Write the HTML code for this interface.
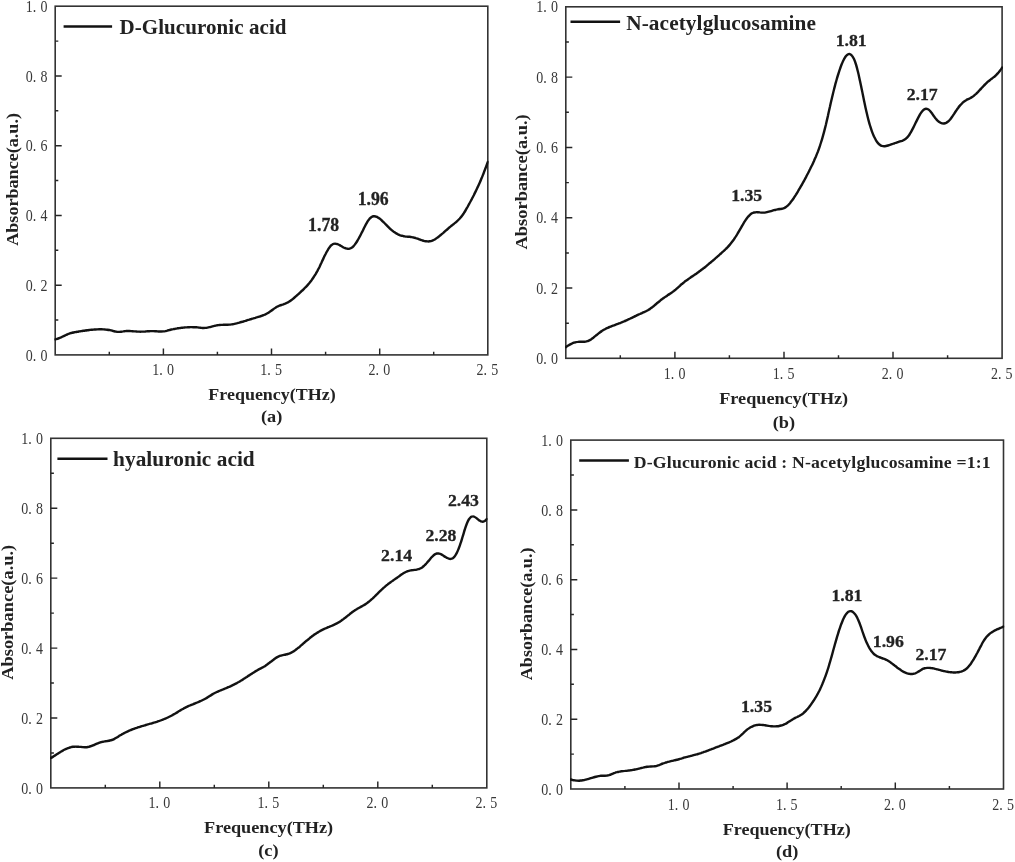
<!DOCTYPE html>
<html lang="en">
<head>
<meta charset="utf-8">
<title>THz absorbance spectra</title>
<style>
html,body{margin:0;padding:0;background:#fff;}
body{width:1015px;height:862px;overflow:hidden;}
svg{display:block;}
text{font-family:"Liberation Serif","Noto Serif CJK SC",serif;}
.fr{fill:none;stroke:#333;stroke-width:1.6;}
.tc{fill:none;stroke:#262626;stroke-width:1.45;}
.cv{fill:none;stroke:#121212;stroke-width:2.4;stroke-linecap:round;stroke-linejoin:round;}
.lg{stroke-linecap:butt;stroke-width:2.5;}
.tk{font-size:14px;fill:#383838;}
.b{font-weight:bold;fill:#222;}
.n{font-size:18.2px;stroke:#222;stroke-width:0.3;}
.t{stroke:none;}
</style>
</head>
<body>
<svg width="1015" height="862" viewBox="0 0 1015 862">
<rect width="1015" height="862" fill="#fff"/>
<g id="panel-a">
<rect class="fr" x="55.2" y="6.2" width="432.6" height="348.7"/>
<path class="tc" d="M109.3,354.9v-3.1M163.4,354.9v-6.5M217.4,354.9v-3.1M271.5,354.9v-6.5M325.6,354.9v-3.1M379.7,354.9v-6.5M433.7,354.9v-3.1M55.2,320.0h3.1M55.2,285.2h6.5M55.2,250.3h3.1M55.2,215.4h6.5M55.2,180.5h3.1M55.2,145.7h6.5M55.2,110.8h3.1M55.2,75.9h6.5M55.2,41.1h3.1"/>
<text class="tk" transform="translate(0,374.7) scale(1,1.17)" x="152.2 159.2 166.9" y="0">1.0</text>
<text class="tk" transform="translate(0,374.7) scale(1,1.17)" x="260.3 267.3 275.0" y="0">1.5</text>
<text class="tk" transform="translate(0,374.7) scale(1,1.17)" x="368.5 375.5 383.2" y="0">2.0</text>
<text class="tk" transform="translate(0,374.7) scale(1,1.17)" x="476.6 483.6 491.3" y="0">2.5</text>
<text class="tk" transform="translate(0,360.5) scale(1,1.17)" x="25.7 32.7 40.4" y="0">0.0</text>
<text class="tk" transform="translate(0,290.8) scale(1,1.17)" x="25.7 32.7 40.4" y="0">0.2</text>
<text class="tk" transform="translate(0,221.0) scale(1,1.17)" x="25.7 32.7 40.4" y="0">0.4</text>
<text class="tk" transform="translate(0,151.3) scale(1,1.17)" x="25.7 32.7 40.4" y="0">0.6</text>
<text class="tk" transform="translate(0,81.5) scale(1,1.17)" x="25.7 32.7 40.4" y="0">0.8</text>
<text class="tk" transform="translate(0,11.8) scale(1,1.17)" x="25.7 32.7 40.4" y="0">1.0</text>
<clipPath id="clip-a"><rect x="54.4" y="5.4" width="434.2" height="350.3"/></clipPath>
<path class="cv" clip-path="url(#clip-a)" d="M55.2,339.3C55.5,339.2 56.5,339.0 57.2,338.8C57.9,338.6 58.5,338.4 59.2,338.1C59.9,337.9 60.5,337.6 61.2,337.3C61.9,337.0 62.5,336.7 63.2,336.3C63.9,336.0 64.5,335.7 65.2,335.4C65.9,335.1 66.5,334.7 67.2,334.5C67.9,334.2 68.6,333.9 69.2,333.7C69.9,333.4 70.6,333.2 71.2,333.0C71.9,332.8 72.6,332.7 73.2,332.5C73.9,332.4 74.6,332.2 75.2,332.1C75.9,332.0 76.6,331.9 77.2,331.8C77.9,331.6 78.6,331.5 79.2,331.4C79.9,331.3 80.6,331.2 81.2,331.1C81.9,331.0 82.6,330.9 83.2,330.8C83.9,330.7 84.6,330.6 85.2,330.5C85.9,330.4 86.6,330.3 87.2,330.2C87.9,330.2 88.6,330.1 89.2,330.0C89.9,329.9 90.6,329.9 91.2,329.8C91.9,329.7 92.6,329.7 93.3,329.6C93.9,329.6 94.6,329.5 95.3,329.5C95.9,329.4 96.6,329.4 97.3,329.4C97.9,329.3 98.6,329.3 99.3,329.3C99.9,329.3 100.6,329.3 101.3,329.3C101.9,329.3 102.6,329.3 103.3,329.4C103.9,329.4 104.6,329.4 105.3,329.5C105.9,329.5 106.6,329.6 107.3,329.7C107.9,329.8 108.6,329.9 109.3,330.0C109.9,330.1 110.6,330.3 111.3,330.4C111.9,330.6 112.6,330.8 113.3,331.0C113.9,331.1 114.6,331.3 115.3,331.5C116.0,331.6 116.6,331.8 117.3,331.9C118.0,331.9 118.6,331.9 119.3,331.9C120.0,331.9 120.6,331.8 121.3,331.7C122.0,331.6 122.6,331.4 123.3,331.4C124.0,331.3 124.6,331.2 125.3,331.1C126.0,331.1 126.6,331.0 127.3,331.0C128.0,331.0 128.6,331.0 129.3,331.0C130.0,331.1 130.6,331.1 131.3,331.1C132.0,331.2 132.6,331.2 133.3,331.3C134.0,331.3 134.6,331.4 135.3,331.4C136.0,331.5 136.6,331.5 137.3,331.6C138.0,331.6 138.6,331.6 139.3,331.6C140.0,331.7 140.7,331.7 141.3,331.6C142.0,331.6 142.7,331.6 143.3,331.6C144.0,331.5 144.7,331.5 145.3,331.5C146.0,331.4 146.7,331.4 147.3,331.3C148.0,331.3 148.7,331.2 149.3,331.2C150.0,331.2 150.7,331.1 151.3,331.1C152.0,331.1 152.7,331.1 153.3,331.1C154.0,331.2 154.7,331.2 155.3,331.2C156.0,331.3 156.7,331.3 157.3,331.4C158.0,331.4 158.7,331.5 159.3,331.5C160.0,331.5 160.7,331.6 161.3,331.5C162.0,331.5 162.7,331.5 163.4,331.4C164.0,331.3 164.7,331.2 165.4,331.1C166.0,330.9 166.7,330.8 167.4,330.6C168.0,330.4 168.7,330.2 169.4,330.0C170.0,329.8 170.7,329.7 171.4,329.5C172.0,329.4 172.7,329.2 173.4,329.1C174.0,328.9 174.7,328.8 175.4,328.7C176.0,328.6 176.7,328.5 177.4,328.3C178.0,328.2 178.7,328.2 179.4,328.1C180.0,328.0 180.7,327.9 181.4,327.8C182.0,327.7 182.7,327.7 183.4,327.6C184.0,327.5 184.7,327.5 185.4,327.4C186.0,327.4 186.7,327.3 187.4,327.3C188.1,327.2 188.7,327.2 189.4,327.2C190.1,327.2 190.7,327.1 191.4,327.1C192.1,327.1 192.7,327.1 193.4,327.2C194.1,327.2 194.7,327.2 195.4,327.2C196.1,327.3 196.7,327.3 197.4,327.4C198.1,327.5 198.7,327.6 199.4,327.6C200.1,327.7 200.7,327.8 201.4,327.9C202.1,327.9 202.7,328.0 203.4,328.0C204.1,328.0 204.7,328.0 205.4,327.9C206.1,327.9 206.7,327.8 207.4,327.6C208.1,327.5 208.7,327.4 209.4,327.2C210.1,327.0 210.7,326.8 211.4,326.7C212.1,326.5 212.8,326.3 213.4,326.1C214.1,325.9 214.8,325.8 215.4,325.6C216.1,325.5 216.8,325.3 217.4,325.2C218.1,325.1 218.8,325.1 219.4,325.0C220.1,324.9 220.8,324.9 221.4,324.9C222.1,324.9 222.8,324.8 223.4,324.8C224.1,324.8 224.8,324.8 225.4,324.8C226.1,324.8 226.8,324.8 227.4,324.7C228.1,324.7 228.8,324.7 229.4,324.6C230.1,324.6 230.8,324.5 231.4,324.4C232.1,324.4 232.8,324.2 233.4,324.1C234.1,324.0 234.8,323.9 235.4,323.7C236.1,323.5 236.8,323.4 237.5,323.2C238.1,323.0 238.8,322.8 239.5,322.6C240.1,322.4 240.8,322.2 241.5,322.0C242.1,321.9 242.8,321.7 243.5,321.5C244.1,321.3 244.8,321.1 245.5,320.9C246.1,320.7 246.8,320.5 247.5,320.2C248.1,320.0 248.8,319.8 249.5,319.6C250.1,319.4 250.8,319.2 251.5,319.0C252.1,318.8 252.8,318.6 253.5,318.4C254.1,318.2 254.8,318.0 255.5,317.8C256.1,317.6 256.8,317.4 257.5,317.2C258.1,317.0 258.8,316.8 259.5,316.6C260.2,316.4 260.8,316.2 261.5,315.9C262.2,315.7 262.8,315.5 263.5,315.2C264.2,314.9 264.8,314.6 265.5,314.3C266.2,314.0 266.8,313.7 267.5,313.3C268.2,312.9 268.8,312.5 269.5,312.0C270.2,311.6 270.8,311.1 271.5,310.6C272.2,310.1 272.8,309.5 273.5,309.1C274.2,308.6 274.8,308.1 275.5,307.7C276.2,307.2 276.8,306.9 277.5,306.5C278.2,306.2 278.8,305.9 279.5,305.7C280.2,305.4 280.8,305.2 281.5,305.0C282.2,304.7 282.8,304.5 283.5,304.3C284.2,304.0 284.9,303.8 285.5,303.5C286.2,303.3 286.9,303.0 287.5,302.6C288.2,302.3 288.9,301.9 289.5,301.4C290.2,301.0 290.9,300.5 291.5,300.0C292.2,299.5 292.9,299.0 293.5,298.4C294.2,297.9 294.9,297.3 295.5,296.7C296.2,296.1 296.9,295.5 297.5,294.9C298.2,294.3 298.9,293.7 299.5,293.1C300.2,292.4 300.9,291.8 301.5,291.2C302.2,290.6 302.9,289.9 303.5,289.3C304.2,288.6 304.9,288.0 305.5,287.3C306.2,286.6 306.9,285.9 307.6,285.1C308.2,284.4 308.9,283.6 309.6,282.8C310.2,282.0 310.9,281.1 311.6,280.2C312.2,279.3 312.9,278.3 313.6,277.3C314.2,276.3 314.9,275.3 315.6,274.1C316.2,273.0 316.9,271.8 317.6,270.6C318.2,269.4 318.9,268.1 319.6,266.7C320.2,265.3 320.9,263.9 321.6,262.4C322.2,261.0 322.9,259.5 323.6,258.1C324.2,256.7 324.9,255.3 325.6,254.0C326.2,252.7 326.9,251.5 327.6,250.4C328.2,249.3 328.9,248.2 329.6,247.3C330.2,246.4 330.9,245.6 331.6,245.1C332.3,244.5 332.9,244.1 333.6,243.9C334.3,243.7 334.9,243.6 335.6,243.7C336.3,243.7 336.9,243.9 337.6,244.2C338.3,244.4 338.9,244.8 339.6,245.1C340.3,245.5 340.9,245.9 341.6,246.3C342.3,246.7 342.9,247.1 343.6,247.5C344.3,247.8 344.9,248.1 345.6,248.4C346.3,248.6 346.9,248.8 347.6,248.8C348.3,248.9 348.9,248.9 349.6,248.7C350.3,248.5 350.9,248.3 351.6,247.8C352.3,247.4 352.9,246.8 353.6,246.1C354.3,245.4 354.9,244.5 355.6,243.6C356.3,242.6 357.0,241.6 357.6,240.4C358.3,239.3 359.0,238.1 359.6,236.8C360.3,235.6 361.0,234.3 361.6,232.9C362.3,231.6 363.0,230.2 363.6,228.9C364.3,227.5 365.0,226.2 365.6,224.9C366.3,223.7 367.0,222.5 367.6,221.4C368.3,220.4 369.0,219.4 369.6,218.7C370.3,218.0 371.0,217.4 371.6,217.0C372.3,216.6 373.0,216.4 373.6,216.3C374.3,216.2 375.0,216.3 375.6,216.5C376.3,216.6 377.0,216.9 377.6,217.3C378.3,217.6 379.0,218.1 379.6,218.6C380.3,219.1 381.0,219.7 381.7,220.4C382.3,221.0 383.0,221.6 383.7,222.3C384.3,223.0 385.0,223.7 385.7,224.3C386.3,225.0 387.0,225.7 387.7,226.4C388.3,227.1 389.0,227.7 389.7,228.4C390.3,229.0 391.0,229.6 391.7,230.2C392.3,230.7 393.0,231.3 393.7,231.8C394.3,232.2 395.0,232.7 395.7,233.1C396.3,233.5 397.0,233.9 397.7,234.2C398.3,234.5 399.0,234.8 399.7,235.1C400.3,235.3 401.0,235.6 401.7,235.7C402.3,235.9 403.0,236.1 403.7,236.2C404.4,236.4 405.0,236.5 405.7,236.6C406.4,236.6 407.0,236.7 407.7,236.7C408.4,236.8 409.0,236.8 409.7,236.8C410.4,236.9 411.0,237.0 411.7,237.1C412.4,237.2 413.0,237.3 413.7,237.5C414.4,237.6 415.0,237.8 415.7,238.1C416.4,238.3 417.0,238.5 417.7,238.7C418.4,239.0 419.0,239.2 419.7,239.5C420.4,239.7 421.0,240.0 421.7,240.2C422.4,240.4 423.0,240.6 423.7,240.8C424.4,241.0 425.0,241.1 425.7,241.2C426.4,241.4 427.0,241.4 427.7,241.4C428.4,241.5 429.1,241.4 429.7,241.3C430.4,241.2 431.1,241.1 431.7,240.9C432.4,240.6 433.1,240.3 433.7,240.0C434.4,239.7 435.1,239.3 435.7,238.8C436.4,238.4 437.1,237.9 437.7,237.4C438.4,236.9 439.1,236.4 439.7,235.9C440.4,235.3 441.1,234.8 441.7,234.2C442.4,233.6 443.1,233.1 443.7,232.5C444.4,231.9 445.1,231.3 445.7,230.7C446.4,230.1 447.1,229.5 447.7,229.0C448.4,228.4 449.1,227.8 449.7,227.2C450.4,226.7 451.1,226.1 451.8,225.6C452.4,225.0 453.1,224.5 453.8,224.0C454.4,223.4 455.1,222.9 455.8,222.3C456.4,221.8 457.1,221.2 457.8,220.5C458.4,219.9 459.1,219.2 459.8,218.5C460.4,217.7 461.1,216.9 461.8,216.1C462.4,215.2 463.1,214.2 463.8,213.2C464.4,212.2 465.1,211.1 465.8,210.0C466.4,208.8 467.1,207.7 467.8,206.5C468.4,205.3 469.1,204.1 469.8,202.8C470.4,201.6 471.1,200.4 471.8,199.1C472.4,197.8 473.1,196.5 473.8,195.2C474.4,193.9 475.1,192.5 475.8,191.1C476.5,189.7 477.1,188.3 477.8,186.9C478.5,185.4 479.1,183.9 479.8,182.4C480.5,180.9 481.1,179.3 481.8,177.7C482.5,176.1 483.1,174.4 483.8,172.7C484.5,171.0 485.1,169.3 485.8,167.5C486.5,165.7 487.5,162.9 487.8,162.0"/>
<path class="cv lg" d="M63.6,26.5H112.1"/>
<text class="b" x="119.5" y="33.9" font-size="21" textLength="167" lengthAdjust="spacing">D-Glucuronic acid</text>
<text class="b n" transform="translate(308.1,231.3) scale(0.975,0.98)">1.78</text>
<text class="b n" transform="translate(357.7,204.5) scale(0.975,0.98)">1.96</text>
<text class="b t" font-size="16.4" transform="translate(272.0,399.7) scale(1.0963,1)" text-anchor="middle">Frequency(THz)</text>
<text class="b t" font-size="17" transform="translate(271.7,421.9) scale(1.08,1)" text-anchor="middle">(a)</text>
<text class="b t" font-size="16.4" transform="translate(18.4,179.4) rotate(-90) scale(1.1042,1)" text-anchor="middle">Absorbance(a.u.)</text>
</g>
<g id="panel-b">
<rect class="fr" x="565.8" y="6.8" width="436.3" height="351.5"/>
<path class="tc" d="M620.3,358.3v-3.1M674.9,358.3v-6.5M729.4,358.3v-3.1M784.0,358.3v-6.5M838.5,358.3v-3.1M893.0,358.3v-6.5M947.6,358.3v-3.1M565.8,323.2h3.1M565.8,288.0h6.5M565.8,252.9h3.1M565.8,217.7h6.5M565.8,182.6h3.1M565.8,147.4h6.5M565.8,112.3h3.1M565.8,77.1h6.5M565.8,41.9h3.1"/>
<text class="tk" transform="translate(0,378.8) scale(1,1.17)" x="663.7 670.7 678.4" y="0">1.0</text>
<text class="tk" transform="translate(0,378.8) scale(1,1.17)" x="772.8 779.8 787.5" y="0">1.5</text>
<text class="tk" transform="translate(0,378.8) scale(1,1.17)" x="881.8 888.8 896.5" y="0">2.0</text>
<text class="tk" transform="translate(0,378.8) scale(1,1.17)" x="990.9 997.9 1005.6" y="0">2.5</text>
<text class="tk" transform="translate(0,363.9) scale(1,1.17)" x="536.3 543.3 551.0" y="0">0.0</text>
<text class="tk" transform="translate(0,293.6) scale(1,1.17)" x="536.3 543.3 551.0" y="0">0.2</text>
<text class="tk" transform="translate(0,223.3) scale(1,1.17)" x="536.3 543.3 551.0" y="0">0.4</text>
<text class="tk" transform="translate(0,153.0) scale(1,1.17)" x="536.3 543.3 551.0" y="0">0.6</text>
<text class="tk" transform="translate(0,82.7) scale(1,1.17)" x="536.3 543.3 551.0" y="0">0.8</text>
<text class="tk" transform="translate(0,12.4) scale(1,1.17)" x="536.3 543.3 551.0" y="0">1.0</text>
<clipPath id="clip-b"><rect x="565.0" y="6.0" width="437.9" height="353.1"/></clipPath>
<path class="cv" clip-path="url(#clip-b)" d="M565.8,347.2C566.1,347.0 567.1,346.3 567.8,345.8C568.5,345.4 569.1,345.0 569.8,344.6C570.5,344.2 571.1,343.9 571.8,343.6C572.5,343.2 573.1,343.0 573.8,342.7C574.5,342.5 575.1,342.3 575.8,342.2C576.5,342.0 577.1,341.9 577.8,341.9C578.5,341.8 579.1,341.8 579.8,341.8C580.5,341.8 581.1,341.8 581.8,341.8C582.5,341.8 583.1,341.8 583.8,341.8C584.5,341.8 585.1,341.7 585.8,341.6C586.5,341.5 587.1,341.3 587.8,341.1C588.5,340.8 589.1,340.5 589.8,340.1C590.5,339.7 591.2,339.3 591.8,338.8C592.5,338.3 593.2,337.8 593.8,337.3C594.5,336.8 595.2,336.2 595.8,335.7C596.5,335.1 597.2,334.6 597.8,334.1C598.5,333.5 599.2,333.0 599.8,332.5C600.5,332.0 601.2,331.5 601.8,331.0C602.5,330.6 603.2,330.2 603.8,329.8C604.5,329.4 605.2,329.0 605.8,328.7C606.5,328.4 607.2,328.1 607.8,327.8C608.5,327.5 609.2,327.2 609.8,326.9C610.5,326.7 611.2,326.4 611.8,326.1C612.5,325.9 613.2,325.6 613.8,325.4C614.5,325.1 615.2,324.9 615.8,324.6C616.5,324.4 617.2,324.1 617.8,323.9C618.5,323.6 619.2,323.3 619.8,323.1C620.5,322.8 621.2,322.6 621.8,322.3C622.5,322.0 623.2,321.8 623.8,321.5C624.5,321.2 625.2,320.9 625.8,320.6C626.5,320.3 627.2,320.0 627.8,319.7C628.5,319.4 629.2,319.1 629.8,318.8C630.5,318.4 631.2,318.1 631.8,317.8C632.5,317.5 633.2,317.1 633.8,316.8C634.5,316.5 635.2,316.2 635.8,315.9C636.5,315.5 637.2,315.2 637.8,314.9C638.5,314.6 639.2,314.3 639.9,314.0C640.5,313.7 641.2,313.4 641.9,313.1C642.5,312.8 643.2,312.5 643.9,312.2C644.5,311.9 645.2,311.7 645.9,311.3C646.5,311.0 647.2,310.7 647.9,310.3C648.5,309.9 649.2,309.5 649.9,309.0C650.5,308.6 651.2,308.1 651.9,307.6C652.5,307.0 653.2,306.5 653.9,306.0C654.5,305.4 655.2,304.8 655.9,304.3C656.5,303.7 657.2,303.1 657.9,302.6C658.5,302.0 659.2,301.4 659.9,300.9C660.5,300.4 661.2,299.8 661.9,299.3C662.5,298.8 663.2,298.3 663.9,297.9C664.5,297.4 665.2,296.9 665.9,296.5C666.5,296.0 667.2,295.6 667.9,295.1C668.5,294.7 669.2,294.3 669.9,293.8C670.5,293.3 671.2,292.9 671.9,292.4C672.5,291.9 673.2,291.4 673.9,290.9C674.5,290.4 675.2,289.9 675.9,289.3C676.5,288.8 677.2,288.2 677.9,287.6C678.5,287.0 679.2,286.4 679.9,285.8C680.5,285.2 681.2,284.6 681.9,284.1C682.5,283.5 683.2,282.9 683.9,282.4C684.5,281.9 685.2,281.3 685.9,280.8C686.5,280.3 687.2,279.9 687.9,279.4C688.6,278.9 689.2,278.4 689.9,278.0C690.6,277.5 691.2,277.1 691.9,276.6C692.6,276.2 693.2,275.7 693.9,275.3C694.6,274.8 695.2,274.4 695.9,273.9C696.6,273.4 697.2,273.0 697.9,272.5C698.6,272.0 699.2,271.5 699.9,271.0C700.6,270.5 701.2,270.0 701.9,269.5C702.6,269.0 703.2,268.5 703.9,268.0C704.6,267.4 705.2,266.9 705.9,266.4C706.6,265.8 707.2,265.3 707.9,264.7C708.6,264.2 709.2,263.6 709.9,263.1C710.6,262.5 711.2,262.0 711.9,261.4C712.6,260.8 713.2,260.2 713.9,259.7C714.6,259.1 715.2,258.5 715.9,257.9C716.6,257.3 717.2,256.8 717.9,256.2C718.6,255.6 719.2,255.0 719.9,254.4C720.6,253.8 721.2,253.2 721.9,252.6C722.6,252.0 723.2,251.4 723.9,250.8C724.6,250.2 725.2,249.5 725.9,248.9C726.6,248.2 727.2,247.5 727.9,246.8C728.6,246.1 729.2,245.4 729.9,244.6C730.6,243.8 731.2,243.0 731.9,242.1C732.6,241.2 733.2,240.3 733.9,239.4C734.6,238.4 735.2,237.4 735.9,236.4C736.6,235.3 737.3,234.2 737.9,233.0C738.6,231.9 739.3,230.7 739.9,229.6C740.6,228.4 741.3,227.2 741.9,226.1C742.6,224.9 743.3,223.8 743.9,222.7C744.6,221.6 745.3,220.6 745.9,219.6C746.6,218.6 747.3,217.7 747.9,216.9C748.6,216.1 749.3,215.4 749.9,214.8C750.6,214.2 751.3,213.7 751.9,213.3C752.6,212.9 753.3,212.7 753.9,212.5C754.6,212.3 755.3,212.2 755.9,212.2C756.6,212.1 757.3,212.2 757.9,212.2C758.6,212.2 759.3,212.3 759.9,212.4C760.6,212.5 761.3,212.6 761.9,212.6C762.6,212.6 763.3,212.6 763.9,212.6C764.6,212.6 765.3,212.5 765.9,212.4C766.6,212.3 767.3,212.1 767.9,211.9C768.6,211.8 769.3,211.6 769.9,211.4C770.6,211.2 771.3,211.0 771.9,210.8C772.6,210.6 773.3,210.4 773.9,210.2C774.6,210.0 775.3,209.8 775.9,209.7C776.6,209.5 777.3,209.4 777.9,209.3C778.6,209.2 779.3,209.1 779.9,209.0C780.6,209.0 781.3,208.9 781.9,208.8C782.6,208.6 783.3,208.5 784.0,208.2C784.6,207.9 785.3,207.5 786.0,207.0C786.6,206.6 787.3,206.0 788.0,205.4C788.6,204.7 789.3,204.0 790.0,203.2C790.6,202.4 791.3,201.5 792.0,200.6C792.6,199.7 793.3,198.7 794.0,197.7C794.6,196.7 795.3,195.6 796.0,194.6C796.6,193.5 797.3,192.4 798.0,191.3C798.6,190.2 799.3,189.1 800.0,187.9C800.6,186.8 801.3,185.6 802.0,184.5C802.6,183.3 803.3,182.1 804.0,180.9C804.6,179.6 805.3,178.4 806.0,177.1C806.6,175.9 807.3,174.6 808.0,173.3C808.6,172.0 809.3,170.7 810.0,169.3C810.6,168.0 811.3,166.6 812.0,165.3C812.6,163.9 813.3,162.5 814.0,161.0C814.6,159.5 815.3,158.0 816.0,156.4C816.6,154.8 817.3,153.1 818.0,151.4C818.6,149.6 819.3,147.7 820.0,145.7C820.6,143.7 821.3,141.6 822.0,139.3C822.6,137.1 823.3,134.7 824.0,132.2C824.6,129.7 825.3,127.1 826.0,124.3C826.6,121.5 827.3,118.5 828.0,115.6C828.6,112.6 829.3,109.6 830.0,106.6C830.6,103.6 831.3,100.7 832.0,97.8C832.7,95.0 833.3,92.2 834.0,89.5C834.7,86.9 835.3,84.3 836.0,81.9C836.7,79.4 837.3,77.1 838.0,75.0C838.7,72.8 839.3,70.7 840.0,68.8C840.7,66.9 841.3,65.1 842.0,63.5C842.7,61.9 843.3,60.5 844.0,59.2C844.7,58.0 845.3,56.9 846.0,56.0C846.7,55.2 847.3,54.6 848.0,54.3C848.7,53.9 849.3,53.8 850.0,54.1C850.7,54.3 851.3,54.8 852.0,55.7C852.7,56.5 853.3,57.6 854.0,59.1C854.7,60.6 855.3,62.4 856.0,64.5C856.7,66.7 857.3,69.2 858.0,72.0C858.7,74.7 859.3,77.8 860.0,80.9C860.7,84.0 861.3,87.4 862.0,90.6C862.7,93.9 863.3,97.2 864.0,100.4C864.7,103.6 865.3,106.9 866.0,109.8C866.7,112.8 867.3,115.7 868.0,118.3C868.7,120.9 869.3,123.3 870.0,125.5C870.7,127.7 871.3,129.7 872.0,131.6C872.7,133.4 873.3,135.0 874.0,136.5C874.7,137.9 875.3,139.2 876.0,140.3C876.7,141.4 877.3,142.3 878.0,143.1C878.7,143.9 879.3,144.5 880.0,144.9C880.7,145.4 881.4,145.7 882.0,145.9C882.7,146.1 883.4,146.2 884.0,146.2C884.7,146.2 885.4,146.1 886.0,146.0C886.7,145.9 887.4,145.7 888.0,145.5C888.7,145.3 889.4,145.1 890.0,144.9C890.7,144.7 891.4,144.4 892.0,144.2C892.7,144.0 893.4,143.8 894.0,143.5C894.7,143.3 895.4,143.1 896.0,142.8C896.7,142.6 897.4,142.4 898.0,142.1C898.7,141.9 899.4,141.7 900.0,141.4C900.7,141.2 901.4,141.0 902.0,140.8C902.7,140.5 903.4,140.3 904.0,139.9C904.7,139.6 905.4,139.2 906.0,138.6C906.7,138.1 907.4,137.4 908.0,136.5C908.7,135.7 909.4,134.7 910.0,133.6C910.7,132.5 911.4,131.3 912.0,130.1C912.7,128.8 913.4,127.5 914.0,126.2C914.7,124.8 915.4,123.4 916.0,122.1C916.7,120.7 917.4,119.3 918.0,118.1C918.7,116.8 919.4,115.5 920.0,114.4C920.7,113.3 921.4,112.3 922.0,111.5C922.7,110.7 923.4,110.0 924.0,109.5C924.7,109.1 925.4,108.8 926.0,108.8C926.7,108.8 927.4,109.0 928.0,109.3C928.7,109.7 929.4,110.3 930.1,111.0C930.7,111.7 931.4,112.6 932.1,113.5C932.7,114.4 933.4,115.5 934.1,116.4C934.7,117.3 935.4,118.3 936.1,119.0C936.7,119.8 937.4,120.5 938.1,121.1C938.7,121.7 939.4,122.1 940.1,122.5C940.7,122.9 941.4,123.2 942.1,123.4C942.7,123.5 943.4,123.6 944.1,123.5C944.7,123.4 945.4,123.2 946.1,122.9C946.7,122.6 947.4,122.1 948.1,121.6C948.7,121.0 949.4,120.3 950.1,119.5C950.7,118.7 951.4,117.8 952.1,116.8C952.7,115.9 953.4,114.9 954.1,113.9C954.7,112.9 955.4,111.8 956.1,110.8C956.7,109.9 957.4,108.9 958.1,108.0C958.7,107.1 959.4,106.2 960.1,105.4C960.7,104.7 961.4,103.9 962.1,103.3C962.7,102.6 963.4,102.0 964.1,101.5C964.7,101.0 965.4,100.6 966.1,100.2C966.7,99.8 967.4,99.5 968.1,99.2C968.7,98.9 969.4,98.7 970.1,98.3C970.7,98.0 971.4,97.6 972.1,97.1C972.7,96.7 973.4,96.2 974.1,95.6C974.7,95.1 975.4,94.4 976.1,93.8C976.7,93.2 977.4,92.5 978.1,91.8C978.8,91.1 979.4,90.4 980.1,89.7C980.8,89.0 981.4,88.2 982.1,87.5C982.8,86.8 983.4,86.1 984.1,85.4C984.8,84.7 985.4,84.0 986.1,83.3C986.8,82.7 987.4,82.0 988.1,81.5C988.8,80.9 989.4,80.4 990.1,79.9C990.8,79.4 991.4,78.9 992.1,78.4C992.8,77.9 993.4,77.5 994.1,76.9C994.8,76.4 995.4,75.8 996.1,75.1C996.8,74.5 997.4,73.8 998.1,73.0C998.8,72.2 999.4,71.4 1000.1,70.5C1000.8,69.6 1001.8,68.0 1002.1,67.5"/>
<path class="cv lg" d="M570.5,21.8H620.1"/>
<text class="b" x="626.2" y="29.5" font-size="21.3" textLength="189.8" lengthAdjust="spacing">N-acetylglucosamine</text>
<text class="b n" transform="translate(731.2,200.9) scale(0.975,0.955)">1.35</text>
<text class="b n" transform="translate(835.7,46.2) scale(0.975,0.955)">1.81</text>
<text class="b n" transform="translate(906.7,99.8) scale(0.975,0.955)">2.17</text>
<text class="b t" font-size="17.2" transform="translate(783.7,404.3) scale(1.0576,1)" text-anchor="middle">Frequency(THz)</text>
<text class="b t" font-size="17" transform="translate(783.9,427.6) scale(1.08,1)" text-anchor="middle">(b)</text>
<text class="b t" font-size="17.2" transform="translate(527.2,181.9) rotate(-90) scale(1.0734,1)" text-anchor="middle">Absorbance(a.u.)</text>
</g>
<g id="panel-c">
<rect class="fr" x="50.8" y="438.3" width="436.0" height="349.6"/>
<path class="tc" d="M105.3,787.9v-3.1M159.8,787.9v-6.5M214.3,787.9v-3.1M268.8,787.9v-6.5M323.3,787.9v-3.1M377.8,787.9v-6.5M432.3,787.9v-3.1M50.8,752.9h3.1M50.8,718.0h6.5M50.8,683.0h3.1M50.8,648.1h6.5M50.8,613.1h3.1M50.8,578.1h6.5M50.8,543.2h3.1M50.8,508.2h6.5M50.8,473.3h3.1"/>
<text class="tk" transform="translate(0,808.4) scale(1,1.17)" x="148.6 155.6 163.3" y="0">1.0</text>
<text class="tk" transform="translate(0,808.4) scale(1,1.17)" x="257.6 264.6 272.3" y="0">1.5</text>
<text class="tk" transform="translate(0,808.4) scale(1,1.17)" x="366.6 373.6 381.3" y="0">2.0</text>
<text class="tk" transform="translate(0,808.4) scale(1,1.17)" x="475.6 482.6 490.3" y="0">2.5</text>
<text class="tk" transform="translate(0,793.5) scale(1,1.17)" x="21.3 28.3 36.0" y="0">0.0</text>
<text class="tk" transform="translate(0,723.6) scale(1,1.17)" x="21.3 28.3 36.0" y="0">0.2</text>
<text class="tk" transform="translate(0,653.7) scale(1,1.17)" x="21.3 28.3 36.0" y="0">0.4</text>
<text class="tk" transform="translate(0,583.7) scale(1,1.17)" x="21.3 28.3 36.0" y="0">0.6</text>
<text class="tk" transform="translate(0,513.8) scale(1,1.17)" x="21.3 28.3 36.0" y="0">0.8</text>
<text class="tk" transform="translate(0,443.9) scale(1,1.17)" x="21.3 28.3 36.0" y="0">1.0</text>
<clipPath id="clip-c"><rect x="50.0" y="437.5" width="437.6" height="351.2"/></clipPath>
<path class="cv" clip-path="url(#clip-c)" d="M50.8,758.1C51.1,757.9 52.1,757.3 52.8,756.9C53.5,756.5 54.1,756.1 54.8,755.6C55.5,755.2 56.1,754.8 56.8,754.3C57.5,753.9 58.1,753.5 58.8,753.0C59.5,752.6 60.1,752.2 60.8,751.8C61.5,751.4 62.1,751.0 62.8,750.6C63.5,750.2 64.1,749.8 64.8,749.5C65.5,749.2 66.1,748.8 66.8,748.6C67.5,748.3 68.1,748.0 68.8,747.8C69.5,747.5 70.1,747.3 70.8,747.2C71.5,747.0 72.1,746.9 72.8,746.8C73.5,746.7 74.1,746.7 74.8,746.7C75.5,746.6 76.1,746.6 76.8,746.7C77.5,746.7 78.1,746.7 78.8,746.8C79.5,746.8 80.1,746.9 80.8,746.9C81.5,747.0 82.1,747.1 82.8,747.1C83.5,747.2 84.1,747.2 84.8,747.2C85.5,747.2 86.1,747.2 86.8,747.2C87.5,747.1 88.1,747.0 88.8,746.9C89.5,746.7 90.1,746.5 90.8,746.2C91.5,746.0 92.1,745.7 92.8,745.4C93.5,745.2 94.1,744.9 94.8,744.6C95.5,744.3 96.1,744.0 96.8,743.7C97.5,743.4 98.1,743.2 98.8,742.9C99.5,742.7 100.1,742.4 100.8,742.3C101.5,742.1 102.1,741.9 102.8,741.8C103.5,741.6 104.1,741.5 104.8,741.4C105.5,741.3 106.1,741.2 106.8,741.1C107.5,740.9 108.1,740.8 108.8,740.7C109.5,740.6 110.1,740.4 110.8,740.3C111.5,740.1 112.1,739.9 112.8,739.6C113.5,739.4 114.1,739.0 114.8,738.7C115.5,738.3 116.1,737.9 116.8,737.5C117.5,737.1 118.1,736.7 118.8,736.2C119.5,735.8 120.1,735.4 120.8,735.0C121.5,734.6 122.1,734.2 122.8,733.9C123.5,733.5 124.1,733.1 124.8,732.8C125.5,732.5 126.1,732.1 126.8,731.8C127.5,731.5 128.1,731.2 128.8,730.9C129.5,730.6 130.1,730.3 130.8,730.0C131.5,729.8 132.1,729.5 132.8,729.2C133.5,729.0 134.1,728.7 134.8,728.5C135.5,728.2 136.1,728.0 136.8,727.8C137.5,727.5 138.1,727.3 138.8,727.1C139.5,726.9 140.1,726.7 140.8,726.5C141.5,726.3 142.1,726.1 142.8,725.9C143.5,725.7 144.1,725.5 144.8,725.3C145.5,725.1 146.1,724.9 146.8,724.7C147.5,724.5 148.1,724.3 148.8,724.1C149.5,724.0 150.1,723.8 150.8,723.6C151.5,723.4 152.1,723.2 152.8,723.0C153.5,722.8 154.1,722.6 154.8,722.4C155.5,722.2 156.1,722.0 156.8,721.8C157.5,721.5 158.1,721.3 158.8,721.1C159.5,720.9 160.1,720.6 160.8,720.4C161.5,720.1 162.1,719.9 162.8,719.6C163.5,719.4 164.1,719.1 164.8,718.8C165.5,718.5 166.1,718.3 166.8,718.0C167.5,717.7 168.1,717.3 168.8,717.0C169.5,716.7 170.1,716.4 170.8,716.0C171.5,715.7 172.1,715.3 172.8,714.9C173.5,714.5 174.1,714.1 174.8,713.8C175.5,713.4 176.1,713.0 176.8,712.6C177.5,712.2 178.1,711.7 178.8,711.3C179.5,710.9 180.1,710.5 180.8,710.1C181.5,709.7 182.1,709.4 182.8,709.0C183.5,708.6 184.1,708.2 184.8,707.9C185.5,707.5 186.1,707.2 186.8,706.9C187.5,706.5 188.1,706.2 188.8,705.9C189.5,705.6 190.1,705.4 190.8,705.1C191.5,704.8 192.1,704.5 192.8,704.3C193.5,704.0 194.1,703.7 194.8,703.5C195.5,703.2 196.1,702.9 196.8,702.7C197.5,702.4 198.1,702.1 198.8,701.8C199.5,701.6 200.1,701.3 200.8,701.0C201.5,700.7 202.1,700.3 202.8,700.0C203.5,699.7 204.1,699.4 204.8,699.0C205.5,698.6 206.1,698.3 206.8,697.9C207.5,697.5 208.1,697.1 208.8,696.6C209.5,696.2 210.1,695.8 210.8,695.4C211.5,694.9 212.1,694.5 212.8,694.1C213.5,693.7 214.1,693.4 214.8,693.0C215.5,692.7 216.1,692.3 216.8,692.0C217.5,691.7 218.1,691.4 218.8,691.1C219.5,690.9 220.1,690.6 220.8,690.3C221.5,690.0 222.1,689.8 222.8,689.5C223.5,689.2 224.1,689.0 224.8,688.7C225.5,688.4 226.1,688.1 226.8,687.8C227.5,687.6 228.1,687.3 228.8,687.0C229.5,686.7 230.1,686.4 230.8,686.1C231.5,685.7 232.1,685.4 232.8,685.1C233.5,684.8 234.1,684.4 234.8,684.1C235.5,683.8 236.1,683.4 236.8,683.1C237.5,682.7 238.1,682.3 238.8,682.0C239.5,681.6 240.1,681.2 240.8,680.8C241.5,680.4 242.1,680.0 242.8,679.6C243.5,679.1 244.1,678.7 244.8,678.3C245.5,677.8 246.1,677.4 246.8,677.0C247.5,676.5 248.1,676.1 248.8,675.6C249.5,675.2 250.1,674.7 250.8,674.3C251.5,673.9 252.1,673.4 252.8,673.0C253.5,672.6 254.1,672.2 254.8,671.7C255.5,671.3 256.1,670.9 256.8,670.6C257.5,670.2 258.1,669.8 258.8,669.4C259.5,669.1 260.1,668.7 260.8,668.4C261.5,668.0 262.1,667.7 262.8,667.3C263.5,667.0 264.1,666.6 264.8,666.2C265.5,665.7 266.1,665.3 266.8,664.8C267.5,664.3 268.1,663.8 268.8,663.3C269.5,662.8 270.1,662.3 270.8,661.8C271.5,661.2 272.1,660.7 272.8,660.2C273.5,659.7 274.1,659.2 274.8,658.7C275.5,658.3 276.1,657.8 276.8,657.4C277.5,657.0 278.1,656.7 278.8,656.4C279.5,656.1 280.1,655.9 280.8,655.7C281.5,655.5 282.1,655.3 282.8,655.1C283.5,655.0 284.1,654.9 284.8,654.7C285.5,654.6 286.1,654.4 286.8,654.3C287.5,654.1 288.1,653.9 288.8,653.7C289.5,653.4 290.1,653.2 290.8,652.9C291.5,652.5 292.1,652.2 292.8,651.8C293.5,651.4 294.1,650.9 294.8,650.5C295.5,650.0 296.1,649.5 296.8,649.0C297.5,648.5 298.1,647.9 298.8,647.4C299.5,646.9 300.1,646.3 300.8,645.7C301.5,645.1 302.1,644.6 302.8,644.0C303.5,643.4 304.1,642.8 304.8,642.3C305.5,641.7 306.1,641.1 306.8,640.6C307.5,640.0 308.1,639.4 308.8,638.9C309.5,638.4 310.1,637.8 310.8,637.3C311.5,636.8 312.1,636.3 312.8,635.8C313.5,635.3 314.1,634.8 314.8,634.3C315.5,633.9 316.1,633.4 316.8,633.0C317.5,632.5 318.1,632.1 318.8,631.8C319.5,631.4 320.1,631.0 320.8,630.6C321.5,630.3 322.1,630.0 322.8,629.6C323.5,629.3 324.1,629.0 324.8,628.7C325.5,628.4 326.1,628.1 326.8,627.8C327.5,627.6 328.1,627.3 328.8,627.0C329.5,626.7 330.1,626.4 330.8,626.2C331.5,625.9 332.1,625.6 332.8,625.3C333.5,625.0 334.1,624.7 334.8,624.4C335.5,624.1 336.1,623.7 336.8,623.4C337.5,623.0 338.1,622.7 338.8,622.3C339.5,621.9 340.1,621.4 340.8,621.0C341.5,620.5 342.1,620.1 342.8,619.6C343.5,619.1 344.1,618.6 344.8,618.1C345.5,617.5 346.1,617.0 346.8,616.5C347.5,616.0 348.1,615.4 348.8,614.9C349.5,614.4 350.1,613.8 350.8,613.3C351.5,612.8 352.1,612.3 352.8,611.8C353.5,611.3 354.1,610.9 354.8,610.4C355.5,610.0 356.1,609.6 356.8,609.2C357.5,608.8 358.1,608.4 358.8,608.0C359.5,607.6 360.1,607.3 360.8,606.9C361.5,606.5 362.1,606.2 362.8,605.8C363.5,605.4 364.1,605.0 364.8,604.6C365.5,604.2 366.1,603.7 366.8,603.3C367.5,602.8 368.1,602.3 368.8,601.8C369.5,601.2 370.1,600.7 370.8,600.1C371.5,599.5 372.1,598.9 372.8,598.3C373.5,597.7 374.1,597.0 374.8,596.4C375.5,595.7 376.1,595.1 376.8,594.4C377.5,593.8 378.1,593.1 378.8,592.4C379.5,591.8 380.1,591.1 380.8,590.5C381.5,589.8 382.1,589.2 382.8,588.6C383.5,588.0 384.1,587.4 384.8,586.8C385.5,586.2 386.1,585.7 386.8,585.1C387.5,584.6 388.1,584.1 388.8,583.6C389.5,583.0 390.1,582.5 390.8,582.1C391.5,581.6 392.1,581.1 392.8,580.7C393.5,580.2 394.1,579.7 394.8,579.3C395.5,578.8 396.1,578.4 396.8,577.9C397.5,577.4 398.1,576.9 398.8,576.5C399.5,576.0 400.1,575.5 400.8,575.0C401.5,574.6 402.1,574.1 402.8,573.7C403.5,573.3 404.1,572.9 404.8,572.5C405.5,572.1 406.1,571.8 406.8,571.5C407.5,571.3 408.1,571.0 408.8,570.8C409.5,570.6 410.1,570.5 410.8,570.4C411.5,570.3 412.1,570.2 412.8,570.1C413.5,570.1 414.1,570.0 414.8,569.9C415.5,569.9 416.1,569.8 416.8,569.6C417.5,569.5 418.1,569.3 418.8,569.1C419.5,568.8 420.1,568.6 420.8,568.2C421.5,567.8 422.1,567.4 422.8,566.9C423.5,566.3 424.1,565.7 424.8,565.1C425.5,564.5 426.1,563.7 426.8,563.0C427.5,562.3 428.1,561.4 428.8,560.6C429.5,559.8 430.1,559.0 430.8,558.2C431.5,557.5 432.1,556.7 432.8,556.1C433.5,555.4 434.1,554.8 434.8,554.4C435.5,554.0 436.1,553.7 436.8,553.5C437.5,553.4 438.1,553.4 438.8,553.5C439.5,553.5 440.1,553.8 440.8,554.1C441.5,554.4 442.1,554.8 442.8,555.3C443.5,555.7 444.1,556.2 444.8,556.6C445.5,557.0 446.1,557.5 446.8,557.8C447.5,558.2 448.1,558.5 448.8,558.7C449.5,558.9 450.1,559.0 450.8,558.9C451.5,558.8 452.1,558.6 452.8,558.2C453.5,557.7 454.1,557.1 454.8,556.2C455.5,555.4 456.1,554.2 456.8,552.9C457.5,551.6 458.1,550.0 458.8,548.3C459.5,546.6 460.1,544.6 460.8,542.6C461.5,540.6 462.1,538.3 462.8,536.1C463.5,534.0 464.1,531.6 464.8,529.5C465.5,527.4 466.1,525.4 466.8,523.7C467.5,522.0 468.1,520.6 468.8,519.5C469.5,518.4 470.1,517.7 470.8,517.1C471.5,516.6 472.1,516.4 472.8,516.4C473.5,516.3 474.1,516.6 474.8,517.0C475.5,517.3 476.1,517.9 476.8,518.4C477.5,519.0 478.1,519.6 478.8,520.1C479.5,520.5 480.1,521.0 480.8,521.3C481.5,521.5 482.1,521.7 482.8,521.7C483.5,521.6 484.1,521.4 484.8,521.0C485.5,520.5 486.5,519.3 486.8,519.0"/>
<path class="cv lg" d="M57.4,458.8H107.5"/>
<text class="b" x="113.1" y="466.2" font-size="21.3" textLength="141.6" lengthAdjust="spacing">hyaluronic acid</text>
<text class="b n" transform="translate(381.1,560.6) scale(0.975,0.96)">2.14</text>
<text class="b n" transform="translate(425.4,540.8) scale(0.975,0.96)">2.28</text>
<text class="b n" transform="translate(447.9,506.3) scale(0.975,0.96)">2.43</text>
<text class="b t" font-size="16.8" transform="translate(268.6,833.4) scale(1.0853,1)" text-anchor="middle">Frequency(THz)</text>
<text class="b t" font-size="17" transform="translate(268.4,855.9) scale(1.08,1)" text-anchor="middle">(c)</text>
<text class="b t" font-size="16.8" transform="translate(13.3,612.3) rotate(-90) scale(1.0966,1)" text-anchor="middle">Absorbance(a.u.)</text>
</g>
<g id="panel-d">
<rect class="fr" x="570.8" y="440.1" width="432.7" height="348.9"/>
<path class="tc" d="M624.9,789.0v-3.1M679.0,789.0v-6.5M733.1,789.0v-3.1M787.1,789.0v-6.5M841.2,789.0v-3.1M895.3,789.0v-6.5M949.4,789.0v-3.1M570.8,754.1h3.1M570.8,719.2h6.5M570.8,684.3h3.1M570.8,649.4h6.5M570.8,614.5h3.1M570.8,579.7h6.5M570.8,544.8h3.1M570.8,509.9h6.5M570.8,475.0h3.1"/>
<text class="tk" transform="translate(0,809.5) scale(1,1.17)" x="667.8 674.8 682.5" y="0">1.0</text>
<text class="tk" transform="translate(0,809.5) scale(1,1.17)" x="775.9 782.9 790.6" y="0">1.5</text>
<text class="tk" transform="translate(0,809.5) scale(1,1.17)" x="884.1 891.1 898.8" y="0">2.0</text>
<text class="tk" transform="translate(0,809.5) scale(1,1.17)" x="992.3 999.3 1007.0" y="0">2.5</text>
<text class="tk" transform="translate(0,794.6) scale(1,1.17)" x="541.3 548.3 556.0" y="0">0.0</text>
<text class="tk" transform="translate(0,724.8) scale(1,1.17)" x="541.3 548.3 556.0" y="0">0.2</text>
<text class="tk" transform="translate(0,655.0) scale(1,1.17)" x="541.3 548.3 556.0" y="0">0.4</text>
<text class="tk" transform="translate(0,585.3) scale(1,1.17)" x="541.3 548.3 556.0" y="0">0.6</text>
<text class="tk" transform="translate(0,515.5) scale(1,1.17)" x="541.3 548.3 556.0" y="0">0.8</text>
<text class="tk" transform="translate(0,445.7) scale(1,1.17)" x="541.3 548.3 556.0" y="0">1.0</text>
<clipPath id="clip-d"><rect x="570.0" y="439.3" width="434.3" height="350.5"/></clipPath>
<path class="cv" clip-path="url(#clip-d)" d="M570.8,779.5C571.1,779.6 572.1,779.9 572.8,780.1C573.5,780.2 574.1,780.3 574.8,780.4C575.5,780.5 576.1,780.6 576.8,780.6C577.5,780.7 578.1,780.7 578.8,780.7C579.5,780.7 580.1,780.6 580.8,780.5C581.5,780.5 582.2,780.4 582.8,780.3C583.5,780.2 584.2,780.1 584.8,779.9C585.5,779.8 586.2,779.6 586.8,779.4C587.5,779.3 588.2,779.1 588.8,778.9C589.5,778.7 590.2,778.4 590.8,778.2C591.5,778.0 592.2,777.8 592.8,777.6C593.5,777.4 594.2,777.2 594.8,777.0C595.5,776.8 596.2,776.6 596.8,776.5C597.5,776.3 598.2,776.2 598.8,776.1C599.5,775.9 600.2,775.9 600.8,775.8C601.5,775.8 602.2,775.8 602.9,775.8C603.5,775.7 604.2,775.8 604.9,775.7C605.5,775.7 606.2,775.7 606.9,775.6C607.5,775.5 608.2,775.4 608.9,775.2C609.5,775.0 610.2,774.7 610.9,774.5C611.5,774.2 612.2,773.9 612.9,773.6C613.5,773.3 614.2,773.0 614.9,772.8C615.5,772.6 616.2,772.4 616.9,772.2C617.5,772.0 618.2,771.8 618.9,771.7C619.5,771.6 620.2,771.5 620.9,771.3C621.5,771.2 622.2,771.2 622.9,771.1C623.6,771.0 624.2,770.9 624.9,770.9C625.6,770.8 626.2,770.7 626.9,770.7C627.6,770.6 628.2,770.6 628.9,770.5C629.6,770.4 630.2,770.3 630.9,770.2C631.6,770.2 632.2,770.1 632.9,769.9C633.6,769.8 634.2,769.7 634.9,769.5C635.6,769.4 636.2,769.3 636.9,769.1C637.6,768.9 638.2,768.8 638.9,768.6C639.6,768.4 640.2,768.3 640.9,768.1C641.6,767.9 642.2,767.7 642.9,767.6C643.6,767.4 644.3,767.3 644.9,767.1C645.6,767.0 646.3,766.9 646.9,766.8C647.6,766.7 648.3,766.7 648.9,766.6C649.6,766.6 650.3,766.6 650.9,766.5C651.6,766.5 652.3,766.5 652.9,766.4C653.6,766.4 654.3,766.3 654.9,766.2C655.6,766.1 656.3,766.0 656.9,765.8C657.6,765.6 658.3,765.3 658.9,765.1C659.6,764.8 660.3,764.6 660.9,764.3C661.6,764.0 662.3,763.7 662.9,763.5C663.6,763.2 664.3,763.0 665.0,762.8C665.6,762.5 666.3,762.3 667.0,762.2C667.6,762.0 668.3,761.8 669.0,761.6C669.6,761.4 670.3,761.3 671.0,761.1C671.6,761.0 672.3,760.8 673.0,760.7C673.6,760.5 674.3,760.4 675.0,760.2C675.6,760.1 676.3,759.9 677.0,759.8C677.6,759.6 678.3,759.4 679.0,759.3C679.6,759.1 680.3,758.9 681.0,758.7C681.6,758.5 682.3,758.3 683.0,758.0C683.6,757.8 684.3,757.6 685.0,757.4C685.7,757.2 686.3,757.0 687.0,756.8C687.7,756.6 688.3,756.5 689.0,756.3C689.7,756.1 690.3,756.0 691.0,755.8C691.7,755.6 692.3,755.5 693.0,755.3C693.7,755.2 694.3,755.0 695.0,754.8C695.7,754.7 696.3,754.5 697.0,754.3C697.7,754.1 698.3,753.9 699.0,753.7C699.7,753.5 700.3,753.3 701.0,753.1C701.7,752.8 702.3,752.6 703.0,752.4C703.7,752.1 704.3,751.9 705.0,751.7C705.7,751.4 706.4,751.2 707.0,750.9C707.7,750.7 708.4,750.4 709.0,750.1C709.7,749.9 710.4,749.6 711.0,749.4C711.7,749.1 712.4,748.8 713.0,748.6C713.7,748.3 714.4,748.1 715.0,747.8C715.7,747.5 716.4,747.3 717.0,747.0C717.7,746.8 718.4,746.5 719.0,746.3C719.7,746.0 720.4,745.8 721.0,745.5C721.7,745.3 722.4,745.0 723.0,744.8C723.7,744.5 724.4,744.3 725.0,744.0C725.7,743.8 726.4,743.5 727.1,743.2C727.7,743.0 728.4,742.7 729.1,742.4C729.7,742.1 730.4,741.8 731.1,741.5C731.7,741.2 732.4,740.9 733.1,740.5C733.7,740.2 734.4,739.8 735.1,739.4C735.7,739.1 736.4,738.7 737.1,738.2C737.7,737.8 738.4,737.4 739.1,736.9C739.7,736.3 740.4,735.8 741.1,735.2C741.7,734.6 742.4,733.9 743.1,733.3C743.7,732.7 744.4,732.0 745.1,731.4C745.7,730.8 746.4,730.2 747.1,729.6C747.8,729.1 748.4,728.6 749.1,728.2C749.8,727.7 750.4,727.4 751.1,727.0C751.8,726.7 752.4,726.4 753.1,726.1C753.8,725.8 754.4,725.6 755.1,725.4C755.8,725.3 756.4,725.1 757.1,725.0C757.8,724.9 758.4,724.9 759.1,724.8C759.8,724.8 760.4,724.8 761.1,724.9C761.8,724.9 762.4,724.9 763.1,725.0C763.8,725.1 764.4,725.2 765.1,725.3C765.8,725.4 766.4,725.5 767.1,725.6C767.8,725.7 768.5,725.8 769.1,725.9C769.8,726.0 770.5,726.1 771.1,726.2C771.8,726.3 772.5,726.3 773.1,726.4C773.8,726.4 774.5,726.4 775.1,726.4C775.8,726.4 776.5,726.4 777.1,726.3C777.8,726.2 778.5,726.1 779.1,726.0C779.8,725.9 780.5,725.7 781.1,725.5C781.8,725.4 782.5,725.1 783.1,724.9C783.8,724.6 784.5,724.3 785.1,724.0C785.8,723.7 786.5,723.3 787.1,722.9C787.8,722.5 788.5,722.1 789.2,721.6C789.8,721.2 790.5,720.7 791.2,720.3C791.8,719.9 792.5,719.4 793.2,719.0C793.8,718.6 794.5,718.3 795.2,717.9C795.8,717.6 796.5,717.3 797.2,717.0C797.8,716.7 798.5,716.3 799.2,716.0C799.8,715.6 800.5,715.2 801.2,714.8C801.8,714.3 802.5,713.9 803.2,713.3C803.8,712.7 804.5,712.1 805.2,711.5C805.8,710.8 806.5,710.1 807.2,709.3C807.9,708.6 808.5,707.8 809.2,706.9C809.9,706.1 810.5,705.2 811.2,704.2C811.9,703.3 812.5,702.3 813.2,701.3C813.9,700.3 814.5,699.3 815.2,698.2C815.9,697.1 816.5,696.0 817.2,694.7C817.9,693.5 818.5,692.3 819.2,691.0C819.9,689.6 820.5,688.2 821.2,686.8C821.9,685.3 822.5,683.7 823.2,682.1C823.9,680.4 824.5,678.7 825.2,676.9C825.9,675.1 826.5,673.1 827.2,671.1C827.9,669.1 828.6,666.9 829.2,664.7C829.9,662.5 830.6,660.1 831.2,657.8C831.9,655.4 832.6,653.0 833.2,650.5C833.9,648.1 834.6,645.7 835.2,643.3C835.9,641.0 836.6,638.6 837.2,636.4C837.9,634.1 838.6,632.0 839.2,629.9C839.9,627.9 840.6,626.0 841.2,624.2C841.9,622.4 842.6,620.8 843.2,619.3C843.9,617.9 844.6,616.5 845.2,615.4C845.9,614.4 846.6,613.4 847.2,612.8C847.9,612.1 848.6,611.6 849.3,611.4C849.9,611.1 850.6,611.1 851.3,611.2C851.9,611.4 852.6,611.7 853.3,612.3C853.9,612.8 854.6,613.6 855.3,614.5C855.9,615.5 856.6,616.6 857.3,617.9C857.9,619.3 858.6,620.8 859.3,622.5C859.9,624.1 860.6,626.1 861.3,628.0C861.9,629.9 862.6,632.0 863.3,633.9C863.9,635.8 864.6,637.6 865.3,639.3C865.9,641.0 866.6,642.5 867.3,643.9C867.9,645.3 868.6,646.6 869.3,647.8C870.0,648.9 870.6,650.0 871.3,650.9C872.0,651.8 872.6,652.6 873.3,653.3C874.0,654.0 874.6,654.6 875.3,655.1C876.0,655.6 876.6,656.0 877.3,656.3C878.0,656.7 878.6,657.0 879.3,657.2C880.0,657.5 880.6,657.7 881.3,657.9C882.0,658.2 882.6,658.3 883.3,658.6C884.0,658.8 884.6,659.0 885.3,659.3C886.0,659.6 886.6,659.9 887.3,660.3C888.0,660.7 888.6,661.1 889.3,661.5C890.0,662.0 890.7,662.5 891.3,663.0C892.0,663.5 892.7,664.0 893.3,664.5C894.0,665.0 894.7,665.6 895.3,666.1C896.0,666.6 896.7,667.2 897.3,667.7C898.0,668.2 898.7,668.7 899.3,669.1C900.0,669.6 900.7,670.1 901.3,670.5C902.0,670.9 902.7,671.3 903.3,671.7C904.0,672.0 904.7,672.4 905.3,672.6C906.0,672.9 906.7,673.2 907.3,673.4C908.0,673.6 908.7,673.7 909.3,673.8C910.0,673.9 910.7,674.0 911.4,674.0C912.0,674.0 912.7,673.9 913.4,673.8C914.0,673.7 914.7,673.5 915.4,673.3C916.0,673.0 916.7,672.7 917.4,672.3C918.0,671.9 918.7,671.5 919.4,671.0C920.0,670.6 920.7,670.1 921.4,669.7C922.0,669.4 922.7,669.0 923.4,668.7C924.0,668.4 924.7,668.3 925.4,668.1C926.0,668.0 926.7,667.9 927.4,667.9C928.0,667.9 928.7,667.9 929.4,667.9C930.0,668.0 930.7,668.0 931.4,668.1C932.1,668.2 932.7,668.3 933.4,668.4C934.1,668.6 934.7,668.7 935.4,668.9C936.1,669.0 936.7,669.2 937.4,669.4C938.1,669.6 938.7,669.7 939.4,669.9C940.1,670.1 940.7,670.3 941.4,670.5C942.1,670.6 942.7,670.8 943.4,671.0C944.1,671.1 944.7,671.3 945.4,671.4C946.1,671.6 946.7,671.7 947.4,671.8C948.1,671.9 948.7,672.0 949.4,672.1C950.1,672.2 950.7,672.3 951.4,672.3C952.1,672.4 952.8,672.4 953.4,672.5C954.1,672.5 954.8,672.5 955.4,672.5C956.1,672.4 956.8,672.4 957.4,672.3C958.1,672.3 958.8,672.2 959.4,672.0C960.1,671.9 960.8,671.8 961.4,671.5C962.1,671.3 962.8,671.0 963.4,670.7C964.1,670.4 964.8,670.0 965.4,669.5C966.1,669.0 966.8,668.4 967.4,667.8C968.1,667.1 968.8,666.4 969.4,665.5C970.1,664.7 970.8,663.8 971.4,662.8C972.1,661.8 972.8,660.8 973.5,659.7C974.1,658.6 974.8,657.4 975.5,656.2C976.1,655.0 976.8,653.7 977.5,652.5C978.1,651.2 978.8,649.9 979.5,648.6C980.1,647.3 980.8,646.0 981.5,644.8C982.1,643.6 982.8,642.3 983.5,641.2C984.1,640.2 984.8,639.2 985.5,638.3C986.1,637.4 986.8,636.6 987.5,635.9C988.1,635.2 988.8,634.6 989.5,634.0C990.1,633.4 990.8,632.9 991.5,632.5C992.1,632.0 992.8,631.6 993.5,631.2C994.2,630.8 994.8,630.5 995.5,630.2C996.2,629.8 996.8,629.5 997.5,629.2C998.2,629.0 998.8,628.7 999.5,628.4C1000.2,628.1 1000.8,627.8 1001.5,627.5C1002.2,627.2 1003.2,626.8 1003.5,626.6"/>
<path class="cv lg" d="M579.2,460.6H628.9"/>
<text class="b" x="633.8" y="467.6" font-size="17.7" textLength="356.9" lengthAdjust="spacing">D-Glucuronic acid : N-acetylglucosamine =1:1</text>
<text class="b n" transform="translate(741.0,712.0) scale(0.975,0.965)">1.35</text>
<text class="b n" transform="translate(831.4,600.5) scale(0.975,0.965)">1.81</text>
<text class="b n" transform="translate(872.8,647.2) scale(0.975,0.965)">1.96</text>
<text class="b n" transform="translate(915.4,660.1) scale(0.975,0.965)">2.17</text>
<text class="b t" font-size="16.6" transform="translate(786.7,834.8) scale(1.0882,1)" text-anchor="middle">Frequency(THz)</text>
<text class="b t" font-size="17" transform="translate(787.2,856.9) scale(1.08,1)" text-anchor="middle">(d)</text>
<text class="b t" font-size="16.6" transform="translate(532.3,613.9) rotate(-90) scale(1.0901,1)" text-anchor="middle">Absorbance(a.u.)</text>
</g>
</svg>
</body>
</html>
